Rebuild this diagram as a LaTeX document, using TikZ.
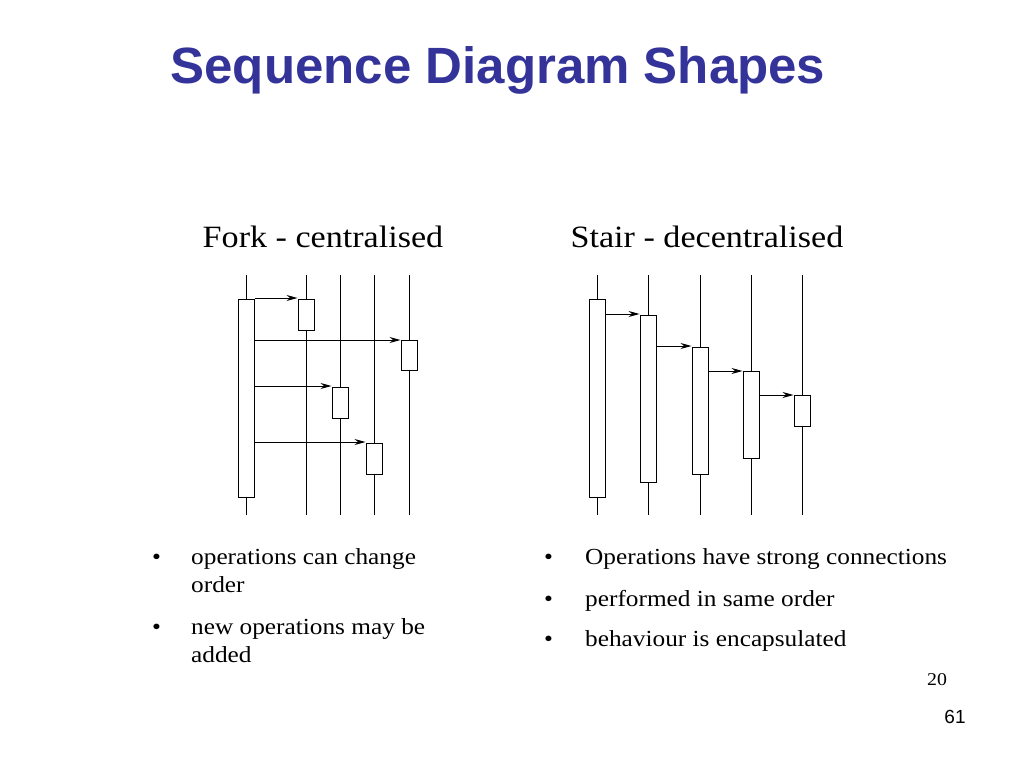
\documentclass[tikz,border=0pt]{standalone}
\usepackage{fontspec}
\setmainfont[FakeStretch=1.1]{Liberation Serif}
\newfontfamily\sans{Liberation Sans}
\usetikzlibrary{arrows.meta}
\definecolor{ttl}{HTML}{333399}
\begin{document}
\begin{tikzpicture}[x=1pt,y=-1pt,
  life/.style={line width=1pt},
  act/.style={draw,fill=white,line width=1pt},
  msg/.style={line width=1pt,-{Stealth[length=11pt,width=6pt]}},
  txt/.style={anchor=base west,font=\fontsize{23}{26}\selectfont,inner sep=0pt}]
\useasboundingbox[fill=white] (0,0) rectangle (1024,768);
\node[font=\sans\bfseries\fontsize{51}{55}\selectfont,text=ttl] (title) at (498,70) {Sequence Diagram Shapes};
\node[font=\fontsize{31}{34}\selectfont] (ft) at (323,237) {Fork - centralised};
\node[font=\fontsize{31}{34}\selectfont] (st) at (707,237) {Stair - decentralised};
% fork lifelines
\foreach \n/\x in {a/246,b/306,c/340,d/374,e/409}{
  \coordinate (f\n t) at (\x,275); \coordinate (f\n b) at (\x,515);
  \draw[life] (f\n t) -- (f\n b);}
\node[act,minimum width=16pt,minimum height=198pt,inner sep=0pt] (fA) at (246,398) {};
\node[act,minimum width=16pt,minimum height=31pt,inner sep=0pt] (fB) at (306,314.5) {};
\node[act,minimum width=16pt,minimum height=30pt,inner sep=0pt] (fE) at (409,355) {};
\node[act,minimum width=16pt,minimum height=31pt,inner sep=0pt] (fC) at (340,402.5) {};
\node[act,minimum width=16pt,minimum height=31pt,inner sep=0pt] (fD) at (374,458.5) {};
\draw[msg] (fA.east |- 0,298) -- (fB.west |- 0,298);
\draw[msg] (fA.east |- 0,340) -- (fE.west |- 0,340);
\draw[msg] (fA.east |- 0,386) -- (fC.west |- 0,386);
\draw[msg] (fA.east |- 0,442) -- (fD.west |- 0,442);
% stair lifelines
\foreach \n/\x in {a/597,b/648,c/700,d/751,e/802}{
  \coordinate (s\n t) at (\x,275); \coordinate (s\n b) at (\x,515);
  \draw[life] (s\n t) -- (s\n b);}
\node[act,minimum width=16pt,minimum height=198pt,inner sep=0pt] (sA) at (597,398) {};
\node[act,minimum width=16pt,minimum height=167pt,inner sep=0pt] (sB) at (648,398.5) {};
\node[act,minimum width=16pt,minimum height=127pt,inner sep=0pt] (sC) at (700,410.5) {};
\node[act,minimum width=16pt,minimum height=87pt,inner sep=0pt] (sD) at (751,414.5) {};
\node[act,minimum width=16pt,minimum height=31pt,inner sep=0pt] (sE) at (802,410.5) {};
\draw[msg] (sA.east |- 0,314) -- (sB.west |- 0,314);
\draw[msg] (sB.east |- 0,346) -- (sC.west |- 0,346);
\draw[msg] (sC.east |- 0,371) -- (sD.west |- 0,371);
\draw[msg] (sD.east |- 0,395) -- (sE.west |- 0,395);
% bullets
\foreach \n/\x/\y in {1/152/564,2/152/634,3/544/564,4/544/606,5/544/646}
  \node[txt] (b\n) at (\x,\y) {•};
\node[txt] (l1) at (191,564) {operations can change};
\node[txt] (l2) at (191,592) {order};
\node[txt] (l3) at (191,634) {new operations may be};
\node[txt] (l4) at (191,662) {added};
\node[txt] (r1) at (585,564) {Operations have strong connections};
\node[txt] (r2) at (585,606) {performed in same order};
\node[txt] (r3) at (585,646) {behaviour is encapsulated};
\node[font=\fontsize{18}{20}\selectfont] (pg) at (937,680) {20};
\node[font=\sans\fontsize{19}{22}\selectfont] (pn) at (955,717) {61};
\end{tikzpicture}
\end{document}
